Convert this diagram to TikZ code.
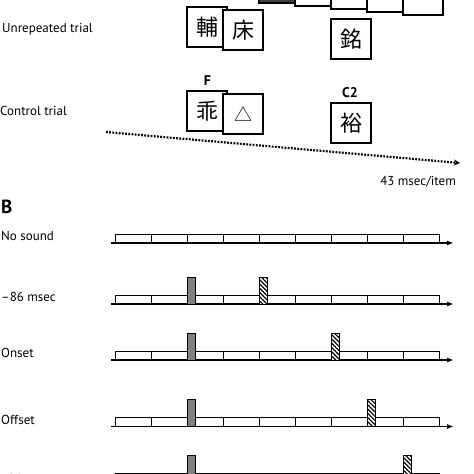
\documentclass[tikz,border=0pt]{standalone}
\usepackage{fontspec}
\setmainfont{PT Sans}
\newfontfamily\cjk{Noto Sans CJK JP}
\usetikzlibrary{arrows.meta,patterns.meta}

\begin{document}
\begin{tikzpicture}[x=1pt,y=-1pt,
  item node/.style={draw,line width=1.8pt,fill=white,minimum size=40pt,inner sep=0pt,font=\cjk\fontsize{22}{22}\selectfont},
  row label/.style={anchor=base west,inner sep=0pt,font=\fontsize{13}{15}\selectfont},
  tag label/.style={anchor=base,inner sep=0pt,font=\bfseries\fontsize{14}{16}\selectfont},
  slot node/.style={draw,line width=0.9pt,minimum width=36pt,minimum height=9pt,inner sep=0pt,outer sep=0pt,anchor=south west},
  flash node/.style={draw,line width=0.9pt,fill=black!50,minimum width=8pt,minimum height=27pt,inner sep=0pt,outer sep=0pt,anchor=south west},
  tone node/.style={flash node,preaction={fill=white},pattern={Lines[angle=-45,distance=3pt,line width=1.2pt]}},
  time axis/.style={line width=1.6pt,-{Latex[length=7pt,width=5pt]}},
  dotted axis/.style={line width=2.2pt,dash pattern=on 1.8pt off 1.4pt,-{Stealth[length=6pt,width=6pt]}}]

  \useasboundingbox (0,0) rectangle (474,474);
  \clip (0,0) rectangle (474,474);

  \node[item node,fill=black!75] (r1) at (279,-17.3) {};
  \node[item node] (r2) at (315,-14.3) {};
  \node[item node] (r3) at (351,-11.3) {};
  \node[item node] (r4) at (387,-8.3) {};
  \node[item node] (r5) at (423,-5.3) {};

  \node[row label] (unrep) at (2,32.3) {Unrepeated trial};
  \node[item node] (u1) at (207,27) {輔};
  \node[item node] (u2) at (243,30) {床};
  \node[item node] (u3) at (351,39) {銘};

  \node[row label] (ctrl) at (0,115) {Control trial};
  \node[tag label] (f) at (207.5,85) {F};
  \node[tag label] (c2) at (350,97.3) {C2};
  \node[item node] (c1) at (207,111) {乖};
  \node[item node,font=\cjk\fontsize{18}{18}\selectfont] (tri) at (243,114) {△};
  \node[item node] (c3) at (351,123) {裕};

  \coordinate (d1) at (106,132);
  \coordinate (d2) at (460,163);
  \draw[dotted axis] (d1) -- (d2);
  \node[row label,anchor=base east] (rate) at (456,185) {43 msec/item};

  \node[row label,font=\bfseries\fontsize{19}{20}\selectfont] (b) at (1,213.3) {B};

  \foreach \r/\ay/\ly/\txt in {1/243/240/No sound,2/304/301.5/--86 msec,3/360/357.3/Onset,4/426.5/424/Offset,5/482.5/483.5/+86 msec}{
    \node[row label] (lab\r) at (1,\ly) {\txt};
    \foreach \k in {0,...,8}
      \node[slot node] (s\r\k) at (115+36*\k,\ay) {};
    \coordinate (a\r) at (110.5,\ay);
    \coordinate (e\r) at (454,\ay);
    \draw[time axis] (a\r) -- (e\r);
  }
  \foreach \r/\ay/\hx in {2/304/259.5,3/360/331.5,4/426.5/367.5,5/482.5/403.5}{
    \node[flash node] (g\r) at (187.3,\ay) {};
    \node[tone node] (t\r) at (\hx,\ay) {};
  }
\end{tikzpicture}
\end{document}
